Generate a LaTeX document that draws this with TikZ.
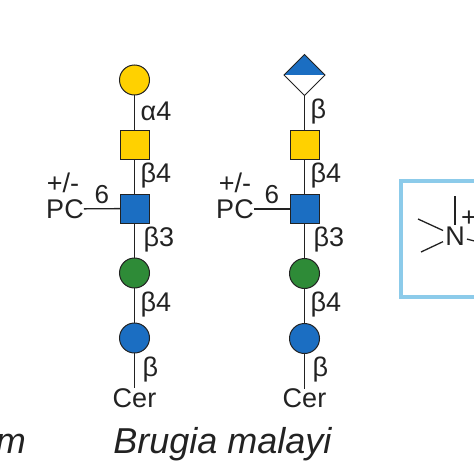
\documentclass[tikz,border=0pt]{standalone}
\usepackage{fontspec}
\usepackage{xcolor}
\setmainfont{Liberation Sans}
\usetikzlibrary{shapes.geometric,positioning}
\definecolor{galyellow}{HTML}{FFD100}
\definecolor{glcblue}{HTML}{1B6EC2}
\definecolor{mangreen}{HTML}{2E8B37}
\definecolor{boxblue}{HTML}{8CCBEA}
\definecolor{inkgrey}{HTML}{222222}

\begin{document}
\begin{tikzpicture}[
    x=1pt, y=-1pt,
    node distance=35pt,
    every node/.style={text=inkgrey},
    sugarcirc/.style={circle, draw=inkgrey, line width=1pt, minimum size=30pt, inner sep=0pt, outer sep=0pt},
    sugarsq/.style={rectangle, draw=inkgrey, line width=1pt, minimum size=29pt, inner sep=0pt, outer sep=0pt},
    linklabel/.style={anchor=west, inner sep=0pt, xshift=5.5pt, yshift=1pt, font=\fontsize{27}{27}\selectfont},
    cerlabel/.style={inner sep=0pt, font=\fontsize{27}{27}\selectfont},
    pclabel/.style={inner sep=0pt, font=\fontsize{27}{27}\selectfont},
    sitelabel/.style={above, inner sep=4.5pt, font=\fontsize{26}{26}\selectfont},
    species/.style={inner sep=0pt, font=\fontsize{36}{36}\selectfont\itshape},
    bond/.style={draw=inkgrey, line width=1.3pt}]
    \useasboundingbox (0,0) rectangle (474,474);
    \clip (0,0) rectangle (474,474);
    % left chain
    \node[sugarcirc, fill=galyellow] (gal) at (134.5,80) {};
    \node[sugarsq, fill=galyellow, below=of gal] (galnac) {};
    \node[sugarsq, fill=glcblue, below=of galnac] (glcnac) {};
    \node[sugarcirc, fill=mangreen, below=of glcnac] (man) {};
    \node[sugarcirc, fill=glcblue, below=of man] (glc) {};
    \node[cerlabel, below=35pt of glc] (cer) {Cer};
    \node[pclabel] (pc) at (65,209) {PC};
    \node[pclabel] (pm) at (63,183) {+/-};
    \draw[bond] (gal) -- node[linklabel] {α4} (galnac);
    \draw[bond] (galnac) -- node[linklabel] {β4} (glcnac);
    \draw[bond] (glcnac) -- node[linklabel, xshift=3pt] {β3} (man);
    \draw[bond] (man) -- node[linklabel] {β4} (glc);
    \draw[bond] (glc) -- node[linklabel, xshift=2pt] {β} (cer);
    \draw[bond] (pc) -- node[sitelabel] {6} (glcnac);
    % right chain
    \node[diamond, draw=inkgrey, line width=1pt, fill=white, minimum size=41pt, inner sep=0pt, outer sep=0pt, aspect=1,
        path picture={\fill[glcblue] (path picture bounding box.west) rectangle (path picture bounding box.north east);}] (gala) at (304.5,75) {};
    \node[sugarsq, fill=galyellow] (galnacb) at (304.5,145) {};
    \node[sugarsq, fill=glcblue, below=of galnacb] (glcnacb) {};
    \node[sugarcirc, fill=mangreen, below=of glcnacb] (manb) {};
    \node[sugarcirc, fill=glcblue, below=of manb] (glcb) {};
    \node[cerlabel, below=35pt of glcb] (cerb) {Cer};
    \node[pclabel] (pcb) at (235,209) {PC};
    \node[pclabel] (pmb) at (235,183) {+/-};
    \draw[bond] (gala) -- node[linklabel] {β} (galnacb);
    \draw[bond] (galnacb) -- node[linklabel] {β4} (glcnacb);
    \draw[bond] (glcnacb) -- node[linklabel, xshift=3pt] {β3} (manb);
    \draw[bond] (manb) -- node[linklabel] {β4} (glcb);
    \draw[bond] (glcb) -- node[linklabel, xshift=2pt] {β} (cerb);
    \draw[bond] (pcb) -- node[sitelabel] {6} (glcnacb);
    % species names
    \node[species, anchor=base east] (nameleft) at (26,453) {m};
    \node[species, anchor=base] (namemid) at (222.5,453) {Brugia malayi};
    % phosphocholine box
    \draw[boxblue, line width=3.5pt] (520,181) -- (401,181) -- (401,297) -- (520,297);
    \node[pclabel, inner sep=2pt] (nitrogen) at (455,236) {N};
    \node[pclabel] (plus) at (469,219) {+};
    \coordinate (methyla) at (455,196);
    \coordinate (methylb) at (418,219);
    \coordinate (methylc) at (421,252);
    \coordinate (methyld) at (490,245);
    \draw[bond] (methyla) -- (nitrogen);
    \draw[bond] (methylb) -- (nitrogen);
    \draw[bond] (methylc) -- (nitrogen);
    \draw[bond] (nitrogen) -- (methyld);
\end{tikzpicture}
\end{document}
